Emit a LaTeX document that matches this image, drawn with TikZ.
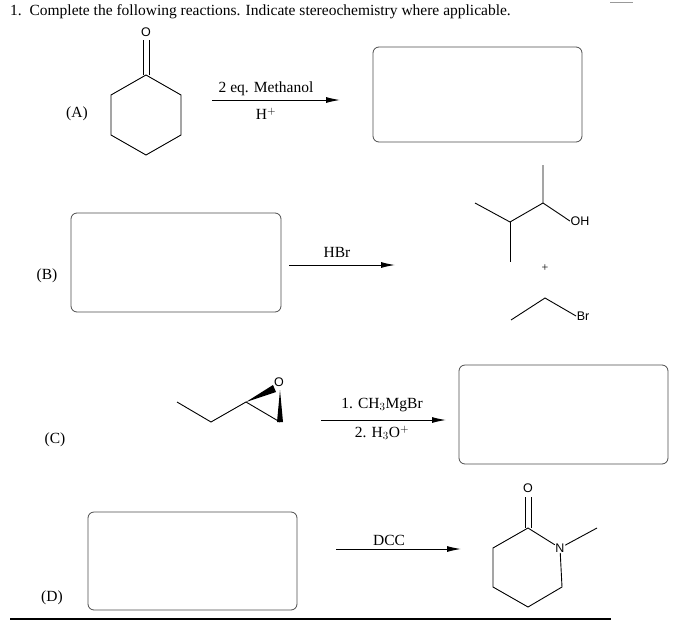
\documentclass[tikz,border=0pt]{standalone}
\usetikzlibrary{arrows.meta}
\usepackage{fontspec}
\setmainfont{Liberation Serif}
\newfontfamily\atomf{Liberation Sans}
\begin{document}
\begin{tikzpicture}[x=1pt,y=-1pt,
  bond/.style={line width=0.9pt},
  ansbox/.style={draw=black!70,line width=0.8pt,rounded corners=6pt},
  rxn/.style={line width=1pt,-{Latex[length=14pt,width=6pt]}},
  lbl/.style={font=\fontsize{15.5}{18}\selectfont,inner sep=0pt},
  atom/.style={font=\atomf\fontsize{12.5}{14}\selectfont,inner sep=0.5pt,fill=white}]
\useasboundingbox (0,0) rectangle (675,643);
\draw[black!40,line width=0.8pt] (610,2) -- (633,2);
\node[lbl,anchor=west] (title) at (10,12) {1.\ \ Complete the following reactions. Indicate stereochemistry where applicable.};
% A
\node[lbl] (la) at (77,114) {(A)};
\draw[bond] (146,75) -- (181,95) -- (181,135) -- (146,155) -- (111,135) -- (111,95) -- cycle;
\node[atom] (oa) at (146,32) {O};
\draw[bond] (143,40) -- (143,75); \draw[bond] (149,40) -- (149,75);
\coordinate (a1) at (212,100); \coordinate (a2) at (340,100);
\draw[rxn] (a1) -- (a2);
\node[lbl] (ra1) at (266,89) {2 eq. Methanol};
\node[lbl] (ra2) at (266,114) {H$^{+}$};
\draw[ansbox] (373,47) rectangle (582,142);
% B
\node[lbl] (lb) at (47,276) {(B)};
\draw[ansbox] (71,213) rectangle (281,312);
\coordinate (b1) at (289,265); \coordinate (b2) at (395,265);
\draw[rxn] (b1) -- (b2);
\node[lbl] (rb) at (337,252) {HBr};
\node[atom] (oh) at (580,221) {OH};
\draw[bond] (475,203) -- (510,222) -- (543,203) -- (543,165);
\draw[bond] (510,222) -- (510,262);
\draw[bond] (543,203) -- (oh.west);
\node[font=\fontsize{12}{12}\selectfont] (plus) at (545,268) {+};
\node[atom] (br) at (583,316) {Br};
\draw[bond] (511,320) -- (545,298) -- (br.west);
% C
\node[lbl] (lc) at (55,440) {(C)};
\node[atom,fill=none] (oc) at (279,382) {O};
\draw[bond] (177,402) -- (211,422) -- (246,402) -- (280,422);
\fill (246,402) -- (273,385) -- (276,392) -- cycle;
\fill (280,390) -- (277,422) -- (283,422) -- cycle;
\coordinate (c1) at (321,420); \coordinate (c2) at (446,420);
\draw[rxn] (c1) -- (c2);
\node[lbl] (rc1) at (382,405) {1. CH$_3$MgBr};
\node[lbl] (rc2) at (382,433) {2. H$_3$O$^{+}$};
\draw[ansbox] (459,365) rectangle (668,464);
% D
\node[lbl] (ld) at (52,598) {(D)};
\draw[ansbox] (88,512) rectangle (297,610);
\coordinate (d1) at (336,549); \coordinate (d2) at (461,549);
\draw[rxn] (d1) -- (d2);
\node[lbl] (rd) at (389,540) {DCC};
\node[atom] (n) at (560,548) {N};
\node[atom] (od) at (528,488) {O};
\draw[bond] (n) -- (528,528) -- (493,548) -- (493,587) -- (528,607) -- (562,587) -- (n);
\draw[bond] (n) -- (597,528);
\draw[bond] (525,497) -- (525,528); \draw[bond] (531,497) -- (531,528);
\draw[line width=1.6pt] (10,619) -- (611,619);
\end{tikzpicture}
\end{document}
